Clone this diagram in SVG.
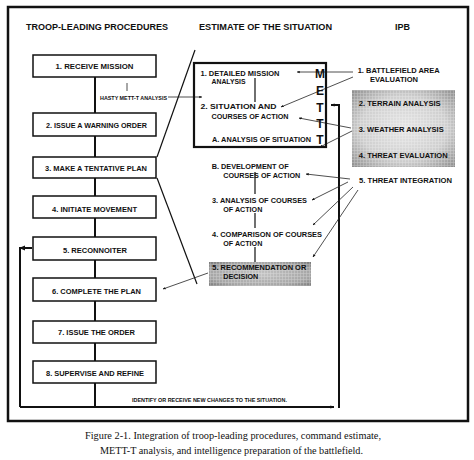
<svg xmlns="http://www.w3.org/2000/svg" width="474" height="460" viewBox="0 0 474 460">
<style>
.t{font-family:"Liberation Sans",Arial,sans-serif;font-weight:bold;font-size:7px;fill:#111}
.h{font-family:"Liberation Sans",Arial,sans-serif;font-weight:bold;font-size:8.5px;fill:#111}
.s{font-family:"Liberation Sans",Arial,sans-serif;font-weight:bold;font-size:5px;fill:#111}
.m{font-family:"Liberation Sans",Arial,sans-serif;font-weight:bold;font-size:12px;fill:#111}
.cap{font-family:"Liberation Serif","Times New Roman",serif;font-size:10.5px;fill:#111}
.box{fill:#fff;stroke:#111;stroke-width:1.5}
.thin{stroke:#222;stroke-width:0.8;fill:none}
.mid{stroke:#111;stroke-width:1.2;fill:none}
.thick{stroke:#111;stroke-width:2;fill:none}
</style>
<defs>
<marker id="arr" viewBox="0 0 10 10" refX="9" refY="5" markerWidth="4" markerHeight="4" orient="auto" markerUnits="userSpaceOnUse">
<path d="M0,1 L10,5 L0,9 z" fill="#111"/>
</marker>
<marker id="dot" viewBox="0 0 10 10" refX="9" refY="5" markerWidth="3" markerHeight="3" orient="auto" markerUnits="userSpaceOnUse">
<path d="M0,1 L10,5 L0,9 z" fill="#111"/>
</marker>
<radialGradient id="g1" cx="50%" cy="50%" r="70%">
<stop offset="0" stop-color="#e6e6e6"/>
<stop offset="0.6" stop-color="#cfcfcf"/>
<stop offset="1" stop-color="#8e8e8e"/>
</radialGradient>
<radialGradient id="g2" cx="50%" cy="50%" r="70%">
<stop offset="0" stop-color="#c4c4c4"/>
<stop offset="0.7" stop-color="#a6a6a6"/>
<stop offset="1" stop-color="#7a7a7a"/>
</radialGradient>
<pattern id="grid" width="3" height="3" patternUnits="userSpaceOnUse">
<path d="M0,0.5 H3 M0.5,0 V3" stroke="#fff" stroke-width="0.6" opacity="0.35"/>
</pattern>
</defs>
<rect x="0" y="0" width="474" height="460" fill="#fff"/>
<rect x="8" y="7" width="460" height="414" fill="none" stroke="#111" stroke-width="2.5"/>

<g id="headers">
<text class="h" x="26" y="29.5" textLength="142" lengthAdjust="spacingAndGlyphs">TROOP-LEADING PROCEDURES</text>
<text class="h" x="199" y="29.5" textLength="133" lengthAdjust="spacingAndGlyphs">ESTIMATE OF THE SITUATION</text>
<text class="h" x="395" y="29.5" textLength="15" lengthAdjust="spacingAndGlyphs">IPB</text>
</g>

<g id="connectors">
<path class="thick" d="M95,77 V113 M95,136 V157 M95,178 V196 M95,218 V237 M95,260 V278 M95,301 V321 M95,343 V361 M95,383 V406"/>
<path class="thick" d="M20,407 H334" marker-end="url(#arr)"/>
<path class="thick" d="M20,407 V248 H32"/>
<path d="M19,248 L25,245.5 L25,250.5 z" fill="#111"/>
<path class="thick" d="M339,408 V105 H331" marker-end="url(#arr)"/>
<path class="mid" d="M195,50 L157,157"/>
<path class="mid" d="M157,178 L197,284"/>
<path class="thin" d="M208,273 L163,289" marker-end="url(#dot)"/>
<path class="thin" d="M127,83 V91"/>
<path class="thin" d="M168,97 H202" marker-end="url(#dot)"/>
<path class="thin" d="M353,72 H297" marker-end="url(#dot)"/>
<path class="thin" d="M353,77 L281,107" marker-end="url(#dot)"/>
<path class="thin" d="M351,128 L299,118" marker-end="url(#dot)"/>
<path class="thin" d="M352,131 L320,147" marker-end="url(#dot)"/>
<path class="thin" d="M350,179 L306,174" marker-end="url(#dot)"/>
<path class="thin" d="M348,182 L312,200" marker-end="url(#dot)"/>
<path class="thin" d="M353,187 L313,225" marker-end="url(#dot)"/>
<path class="thin" d="M358,190 L313,257" marker-end="url(#dot)"/>
<path class="mid" d="M255,78 V102 M255,172 V194 M255,213 V228 M255,247 V262"/>
<text class="s" x="100" y="99.5" textLength="67" lengthAdjust="spacingAndGlyphs">HASTY METT-T ANALYSIS</text>
<text class="s" x="132" y="402" textLength="155" lengthAdjust="spacingAndGlyphs">IDENTIFY OR RECEIVE NEW CHANGES TO THE SITUATION.</text>
</g>

<g id="step1"><rect class="box" x="33" y="55" width="123" height="22"/><text class="t" x="94.5" y="68.5" text-anchor="middle" textLength="78" lengthAdjust="spacingAndGlyphs">1.  RECEIVE MISSION</text></g>
<g id="step2"><rect class="box" x="33" y="113" width="123" height="23"/><text class="t" x="96.5" y="127.5" text-anchor="middle" textLength="101" lengthAdjust="spacingAndGlyphs">2.  ISSUE A WARNING ORDER</text></g>
<g id="step3"><rect class="box" x="33" y="157" width="123" height="21"/><text class="t" x="96" y="170.5" text-anchor="middle" textLength="102" lengthAdjust="spacingAndGlyphs">3.  MAKE A TENTATIVE PLAN</text></g>
<g id="step4"><rect class="box" x="33" y="196" width="123" height="22"/><text class="t" x="94.5" y="211.5" text-anchor="middle" textLength="85" lengthAdjust="spacingAndGlyphs">4.  INITIATE MOVEMENT</text></g>
<g id="step5"><rect class="box" x="33" y="237" width="123" height="23"/><text class="t" x="95" y="253" text-anchor="middle" textLength="64" lengthAdjust="spacingAndGlyphs">5.  RECONNOITER</text></g>
<g id="step6"><rect class="box" x="33" y="278" width="123" height="23"/><text class="t" x="96.5" y="294" text-anchor="middle" textLength="89" lengthAdjust="spacingAndGlyphs">6.  COMPLETE THE PLAN</text></g>
<g id="step7"><rect class="box" x="33" y="321" width="123" height="22"/><text class="t" x="96.5" y="335" text-anchor="middle" textLength="77" lengthAdjust="spacingAndGlyphs">7.  ISSUE THE ORDER</text></g>
<g id="step8"><rect class="box" x="33" y="361" width="123" height="22"/><text class="t" x="95" y="375.5" text-anchor="middle" textLength="98" lengthAdjust="spacingAndGlyphs">8.  SUPERVISE AND REFINE</text></g>

<g id="mett-box">
<rect x="194" y="63" width="132" height="84" fill="none" stroke="#111" stroke-width="2.2"/>
<text class="t" x="200.5" y="76" textLength="79" lengthAdjust="spacingAndGlyphs">1.  DETAILED MISSION</text>
<text class="t" x="211.5" y="84" textLength="34" lengthAdjust="spacingAndGlyphs">ANALYSIS</text>
<text class="t" x="200.5" y="109.3" textLength="76" lengthAdjust="spacingAndGlyphs">2.  SITUATION AND</text>
<text class="t" x="211.5" y="119" textLength="77" lengthAdjust="spacingAndGlyphs">COURSES OF ACTION</text>
<text class="t" x="212" y="142.3" textLength="99" lengthAdjust="spacingAndGlyphs">A.  ANALYSIS OF SITUATION</text>
<text class="m" x="320" y="78" text-anchor="middle">M</text>
<text class="m" x="320" y="95" text-anchor="middle">E</text>
<text class="m" x="320" y="112" text-anchor="middle">T</text>
<text class="m" x="320" y="128" text-anchor="middle">T</text>
<text class="m" x="320" y="144" text-anchor="middle">T</text>
</g>

<g id="estimate-steps">
<text class="t" x="211.7" y="169" textLength="77" lengthAdjust="spacingAndGlyphs">B.  DEVELOPMENT OF</text>
<text class="t" x="223.3" y="178.3" textLength="77" lengthAdjust="spacingAndGlyphs">COURSES OF ACTION</text>
<text class="t" x="212" y="203.3" textLength="95" lengthAdjust="spacingAndGlyphs">3.  ANALYSIS OF COURSES</text>
<text class="t" x="223.3" y="212" textLength="39" lengthAdjust="spacingAndGlyphs">OF ACTION</text>
<text class="t" x="212" y="236.7" textLength="110" lengthAdjust="spacingAndGlyphs">4.  COMPARISON OF COURSES</text>
<text class="t" x="223.3" y="245.7" textLength="39" lengthAdjust="spacingAndGlyphs">OF ACTION</text>
</g>

<g id="recommendation">
<rect x="209" y="262" width="102" height="24" fill="url(#g2)"/>
<rect x="209" y="262" width="102" height="24" fill="url(#grid)"/>
<text class="t" x="212.3" y="270" textLength="94" lengthAdjust="spacingAndGlyphs">5.  RECOMMENDATION OR</text>
<text class="t" x="223.3" y="279" textLength="35" lengthAdjust="spacingAndGlyphs">DECISION</text>
</g>

<g id="ipb1">
<text class="t" x="357.7" y="73.3" textLength="82" lengthAdjust="spacingAndGlyphs">1.  BATTLEFIELD AREA</text>
<text class="t" x="370" y="81.7" textLength="48" lengthAdjust="spacingAndGlyphs">EVALUATION</text>
</g>

<g id="ipb-box">
<rect x="352" y="90" width="103" height="77" fill="url(#g1)"/>
<rect x="352" y="90" width="103" height="77" fill="url(#grid)"/>
<text class="t" x="358.7" y="105.7" textLength="82" lengthAdjust="spacingAndGlyphs">2.  TERRAIN ANALYSIS</text>
<text class="t" x="358.7" y="132.3" textLength="85" lengthAdjust="spacingAndGlyphs">3.  WEATHER ANALYSIS</text>
<text class="t" x="358.7" y="157.7" textLength="89" lengthAdjust="spacingAndGlyphs">4.  THREAT EVALUATION</text>
</g>

<g id="ipb5">
<text class="t" x="359" y="182.7" textLength="93" lengthAdjust="spacingAndGlyphs">5.  THREAT INTEGRATION</text>
</g>

<g id="caption">
<text class="cap" x="85" y="438.5" textLength="296" lengthAdjust="spacingAndGlyphs">Figure 2-1. Integration of troop-leading procedures, command estimate,</text>
<text class="cap" x="100" y="453.5" textLength="263" lengthAdjust="spacingAndGlyphs">METT-T analysis, and intelligence preparation of the battlefield.</text>
</g>
</svg>
